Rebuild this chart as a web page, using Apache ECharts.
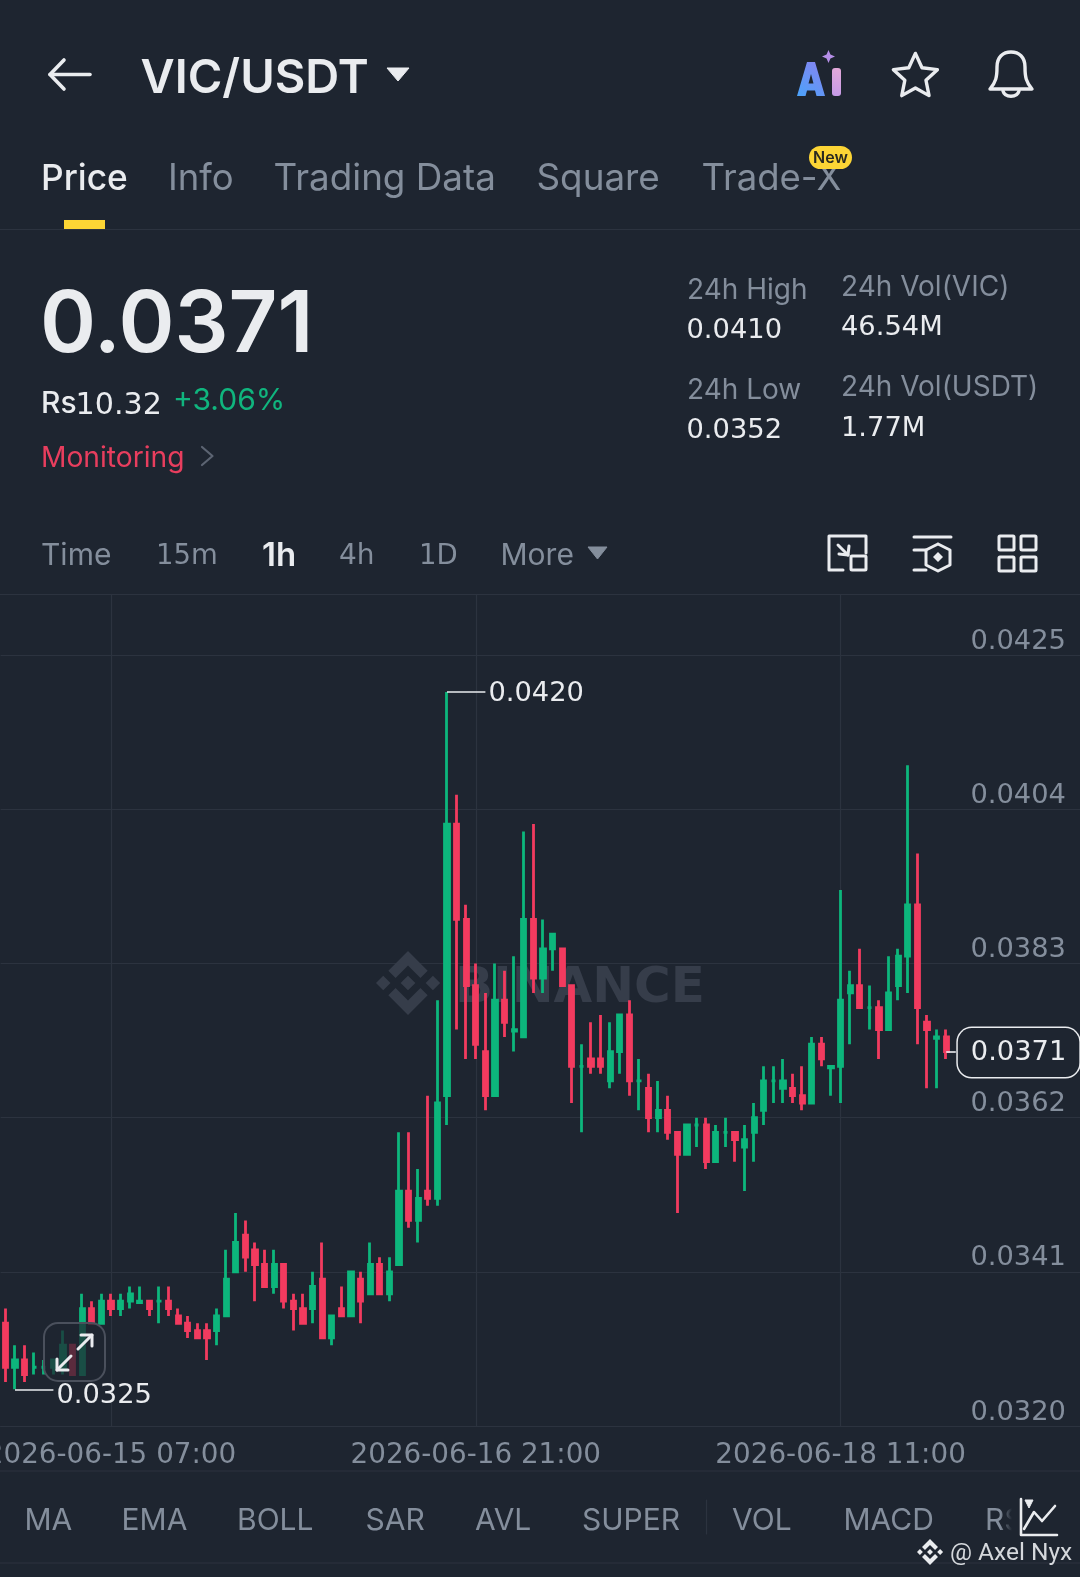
<!DOCTYPE html>
<html><head><meta charset="utf-8">
<style>html,body{margin:0;padding:0;background:#1e2530}#c{width:1080px;height:1577px}</style>
<script src="https://cdn.jsdelivr.net/npm/echarts@6/dist/echarts.min.js"></script>
</head><body><div id="c"></div>
<script>
// hourly candles, 2026-06-14 20:00 onward
const opens = [.0334,.0328,.0329,.0328,.0328,.0328,.0328,.0331,.0327,.0336,.0334,
 .0337,.0336,.0337,.03368,.0337,.0337,.0337,.0335,.0334,.0333,.0333,.0333,.0335,.0341,.0346,.0344,.0342,.0339,.0342,.0337,
 .0336,.0336,.0340,.0332,.0336,.0335,.0340,.0338,.0342,.0338,.0342,.0352,.0348,.0352,.0351,.0365,.0402,.0389,.0380,.0371,
 .0365,.0378,.03738,.0373,.0389,.0381,.0385,.0385,.0380,.0369,.0370,.0370,.0367,.0371,.0376,.0367,.0366,.0362,.0363,.0360,
 .0357,.0361,.0361,.0356,.0360,.0360,.0358,.0360,.0363,.0367,.0366,.0366,.0365,.0364,.0372,.03688,.0369,.0379,.0380,.0377,
 .0377,.0374,.0380,.0384,.0391,.0375,.03728,.0373];
const closes = [.0328,.0329,.0327,.0328,.0328,.0329,.0331,.0327,.0336,.0334,.0337,
 .0336,.0337,.0338,.0337,.0336,.0337,.0336,.0334,.0333,.0332,.0332,.0335,.0340,.0345,.0343,.0342,.0339,.0342,.0337,.0336,
 .0334,.0339,.0332,.0335,.0335,.0341,.0337,.0342,.0338,.0341,.0352,.0348,.0351,.0351,.0364,.0402,.0389,.0380,.0372,.0365,
 .0378,.0375,.0374,.0389,.0381,.0385,.0387,.0380,.0369,.0369,.0369,.0369,.0371,.0376,.0367,.0367,.0362,.0363,.0360,.0357,
 .0361,.0361,.0356,.0360,.0360,.0359,.0359,.0362,.0367,.0367,.0367,.0365,.0364,.0372,.0370,.0369,.0378,.0380,.0377,.0377,
 .0374,.0379,.0384,.0391,.0377,.0374,.0373,.0371];
const lows = [.0326,.0325,.0326,.0327,.0327,.0327,.0327,.0327,.0327,.0334,.0334,
 .0335,.0335,.0336,.03368,.0335,.0334,.0335,.0334,.0332,.0332,.0329,.0331,.0335,.0341,.0341,.0337,.0339,.0338,.0336,.0333,
 .0334,.0334,.0332,.0331,.0335,.0335,.0334,.0338,.0338,.0337,.0342,.0347,.0345,.0350,.0350,.0361,.0374,.0370,.0370,.0363,
 .0365,.0373,.0371,.0373,.0379,.0379,.0382,.0380,.0364,.0360,.0368,.0368,.0366,.0368,.0365,.0363,.0360,.0360,.0359,.0349,
 .0357,.0358,.0355,.0356,.0358,.0356,.0352,.0356,.0361,.0364,.0364,.0364,.0363,.0364,.0369,.0365,.0364,.0372,.0377,.0374,
 .0370,.0374,.0378,.0379,.0372,.0366,.0366,.0370];
const highs = [.0336,.0331,.0331,.0330,.0329,.0329,.0333,.0331,.0338,.0337,.0338,
 .0338,.0338,.0339,.0339,.0337,.0339,.0339,.0336,.0335,.0334,.0334,.0336,.0344,.0349,.0348,.0345,.0344,.0344,.0342,.0338,
 .0338,.0341,.0345,.0335,.0339,.0341,.0341,.0345,.0343,.0343,.0360,.0360,.0355,.0365,.0378,.0420,.0406,.0391,.0383,.0379,
 .0383,.0382,.0384,.0401,.0402,.0389,.0387,.0385,.0380,.0372,.0375,.0376,.0375,.0376,.0378,.0370,.0368,.0367,.0365,.0360,
 .0361,.0362,.0362,.0361,.0362,.0360,.0361,.0364,.0369,.0369,.0370,.0368,.0369,.0373,.0373,.0369,.0393,.0382,.0385,.0380,
 .0378,.0384,.0385,.0410,.0398,.0376,.0374,.0374];
const yTicks = [.0320,.0341,.0362,.0383,.0404,.0425];
const xTickLabels = ['2026-06-15 07:00','2026-06-16 21:00','2026-06-18 11:00'];
const lastPrice = .0371, highPrice = .0420, lowPrice = .0325;
const statsLabels = ['24h High','24h Vol(VIC)','24h Low','24h Vol(USDT)'];
const statsValues = ['0.0410','46.54M','0.0352','1.77M'];

const pad2 = n => String(n).padStart(2,'0');
const categories = [];
for (let i = 0; i < 113; i++) {
  const d = new Date(Date.UTC(2026,5,14,20) + i*3600000);
  categories.push(`${d.getUTCFullYear()}-${pad2(d.getUTCMonth()+1)}-${pad2(d.getUTCDate())} ${pad2(d.getUTCHours())}:00`);
}
const candleData = categories.map((c,i) => i<opens.length ? [opens[i],closes[i],lows[i],highs[i]] : ['-','-','-','-']);
const iHigh = highs.indexOf(highPrice), iLow = lows.indexOf(lowPrice), iLast = opens.length-1;

const BG='#1e2530', FONT='Inter', NUM='DejaVu Sans', W='#eaecef', G='#848e9c', LINE='#2c333f', GREEN='#0db67c', RED='#f23b5f';
const els=[];
function T(text,x,base,size,color,weight,align,z,font){
  const k = font===NUM ? 0.225 : 0.285;
  els.push({type:'text',x:x,y:base-size*k,z:z||10,silent:true,style:{text:text,fill:color,font:`${weight||400} ${size}px ${font||FONT}`,textAlign:align||'left',textVerticalAlign:'middle'}});
}
function L(x1,y1,x2,y2,c,w,z){els.push({type:'line',z:z||10,silent:true,shape:{x1,y1,x2,y2},style:{stroke:c,lineWidth:w||1.5,lineCap:'round'}});}
function P(points,c,w,z,fill){els.push({type:'polyline',z:z||10,silent:true,shape:{points},style:{stroke:c,lineWidth:w||3,lineCap:'round',lineJoin:'round',fill:fill||'none'}});}
function TRI(x1,x2,y1,y2,c,z){els.push({type:'polygon',z:z||10,silent:true,shape:{points:[[x1,y1],[x2,y1],[(x1+x2)/2,y2]]},style:{fill:c,stroke:c,lineWidth:1,lineJoin:'round'}});}
function R(x,y,w,h,r,style,z){els.push({type:'rect',z:z||10,silent:true,shape:{x,y,width:w,height:h,r:r||0},style});}
let shapeN=0;
function PATH(d,x,y,s,style,z){
  const name='iconShape'+(shapeN++);
  const scaled=d.replace(/-?\d*\.?\d+/g,n=>String(parseFloat(n)*s));
  echarts.graphic.registerShape(name,echarts.graphic.extendPath(scaled,{}));
  els.push({type:name,x,y,z:z||10,silent:true,style});
}
const stroke=(c,w)=>({fill:'none',stroke:c,lineWidth:w,lineJoin:'round',lineCap:'round'});
const LOGO='M38.73 53.2l24.59-24.58 24.6 24.6 14.3-14.31L63.32 0 24.43 38.9zM0 63.31l14.3-14.31 14.31 14.31-14.31 14.3zM38.73 73.41l24.59 24.59 24.6-24.6 14.31 14.29-38.9 38.91-38.91-38.88zM98.28 63.31l14.3-14.31 14.31 14.3-14.31 14.32zM77.83 63.3L63.32 48.78 52.59 59.51l-1.24 1.23-2.54 2.54 14.51 14.5 14.51-14.47z';
const grad=(a,b)=>({type:'linear',x:0,y:1,x2:1,y2:0,colorStops:[{offset:0,color:a},{offset:1,color:b}]});

// header
P([[64,60],[50,74.5],[64,89]],W,3.6); L(50,74.5,90,74.5,W,3.6);
T('VIC/USDT',140.5,92.5,47,W,600);
TRI(387,409,68,81,W);
PATH('M0 34L10 0L18 0L28 34L19.5 34L18 28.5L10 28.5L8.5 34ZM11.5 21.5L16.5 21.5L14 12Z',797,62,1,{fill:grad('#4aa3fa','#8a82f0')});
R(832,68,9,28,3,{fill:grad('#c49ae8','#e4a9d8')});
PATH('M5 0L6.5 3.5L10 5L6.5 6.5L5 10L3.5 6.5L0 5L3.5 3.5Z',822,50,1.3,{fill:'#b68fe8'});
PATH('M12 2l3 6.5 7 .9-5.2 4.8 1.4 7-6.2-3.5-6.2 3.5 1.4-7L2 9.4l7-.9z',889,49,2.2,stroke(W,3.4));
PATH('M2 38C8 31 9 26 9 16C9 6 15 1 23 1C31 1 37 6 37 16C37 26 38 31 44 38Z',988,51,1,stroke(W,3.4));
PATH('M15 40C17 47 29 47 31 40',988,51,1,stroke(W,3.4));

// tabs
T('Price',41,189,35.3,W,500);
T('Info',168,189,36.5,G,400);
T('Trading Data',273.5,189,36.8,G,400);
T('Square',536.5,189,36.8,G,400);
T('Trade-X',701.5,189,36.5,G,400);
R(809,146,43,23,11.5,{fill:'#fcd535'});
T('New',830.5,163,16,'#2a2a20',600,'center');
L(0,229.5,1080,229.5,LINE,1.2);
R(64,220,41,9,0,{fill:'#fcd535'});

// price block
T('0.0371',40,351,85,W,600);
T('Rs',41,413,30,W,500);
T('10.32',75.5,413,30.2,W,400,'left',10,NUM);
T('+3.06%',173,410,30,'#10b57e',400);
T('Monitoring',41,467,28.2,'#e83e5e',400);
P([[202,447],[212.5,456],[202,465]],'#5c6472',2.2);
T(statsLabels[0],687,299,28,G); T(statsValues[0],686.5,337,27.3,W,400,'left',10,NUM);
T(statsLabels[1],841,295.5,28,G); T(statsValues[1],841,334.5,27.3,W,400,'left',10,NUM);
T(statsLabels[2],687,399,28,G); T(statsValues[2],686.5,437,27.3,W,400,'left',10,NUM);
T(statsLabels[3],841,396,28,G); T(statsValues[3],841,435,27.3,W,400,'left',10,NUM);

// interval row
T('Time',41,565,30,G); T('15m',156,563,27.5,G,400,'left',10,NUM); T('1h',262,565,33,W,600);
T('4h',339,563,28,G,400,'left',10,NUM); T('1D',419,563,27.5,G,400,'left',10,NUM); T('More',500.5,565,30,G);
TRI(588,607,547,559,G);
// row icons
P([[866,553],[866,536],[829,536],[829,570],[843,570]],W,3);
R(851,556,15,14,1,stroke(W,3));
P([[838,545],[848,555]],W,3); P([[839,554],[848,555],[849,546]],W,3);
L(914,537,951,537,W,3); L(914,550,926,550,W,3); L(914,570,926,570,W,3);
P([[938,544],[950,550],[950,565],[938,571],[926,565],[926,550],[938,544]],W,3);
PATH('M5 0L10 5L5 10L0 5Z',933,552,1,{fill:W});
[[999,536],[1021,536],[999,557],[1021,557]].forEach(p=>R(p[0],p[1],15,14,1,stroke(W,3)));
L(0,594.5,1080,594.5,LINE,1.2);

// watermark behind candles
PATH(LOGO,376,951,64/126.61,{fill:'#363d4a'},1);
T('BINANCE',455,1000,50,'#363d4a',700,'left',1,NUM);

// expand button over candles
R(44,1323,61,58,14,{fill:'rgba(30,37,48,0.72)',stroke:'#4a505c',lineWidth:2},3);
L(57,1370,71,1356,W,3,3); P([[57,1359],[57,1370],[68,1370]],W,3,3);
L(78,1349,92,1335,W,3,3); P([[81,1335],[92,1335],[92,1346]],W,3,3);

// bottom bar
L(0,1471,1080,1471,LINE,1.2); L(0,1563,1080,1563,LINE,1.2);
[['MA',24.5],['EMA',121.5],['BOLL',237],['SAR',365.5],['AVL',475],['SUPER',582],['VOL',732],['MACD',843.5],['RSI',985]].forEach(a=>T(a[0],a[1],1530,30,G,400));
L(706.5,1500,706.5,1534,LINE,1.2);
R(1000,1490,12,50,0,{fill:{type:'linear',x:0,y:0,x2:1,y2:0,colorStops:[{offset:0,color:'rgba(30,37,48,0)'},{offset:1,color:BG}]}},11);
R(1012,1490,68,50,0,{fill:BG},11);
P([[1021,1499],[1021,1535],[1057,1535]],W,2.6,12);
P([[1024,1529],[1034,1512],[1042,1521],[1055,1506]],W,2.6,12);
TRI(1025,1033,1500,1508,W,12);
PATH(LOGO,917,1539,26/126.61,{fill:W},12);
T('@ Axel Nyx',950,1561,24.5,'#d5d8dc',400,'left',12,'Roboto');

const lineLabel=(v,extra)=>Object.assign({show:true,position:'end',formatter:()=>v.toFixed(4),color:W,fontFamily:NUM,fontSize:27.3,distance:3},extra||{});
const chart=echarts.init(document.getElementById('c'),null,{renderer:'canvas'});
chart.setOption({
  animation:false, backgroundColor:BG,
  grid:{left:0.6,top:595,width:1084.8,height:831,containLabel:false,outerBoundsMode:'none'},
  xAxis:{type:'category',data:categories,boundaryGap:true,
    axisLine:{show:true,lineStyle:{color:LINE,width:1.2}},axisTick:{show:false,alignWithLabel:true},
    axisLabel:{show:true,color:G,fontFamily:NUM,fontSize:27.8,margin:16,hideOverlap:false,
      interval:(i,v)=>xTickLabels.includes(v)},
    splitLine:{show:true,alignWithLabel:true,lineStyle:{color:LINE,width:1.2},interval:(i,v)=>xTickLabels.includes(v)}},
  yAxis:{type:'value',position:'right',min:.0320,max:.04332,scale:true,
    axisLine:{show:false},
    axisTick:{show:false,customValues:yTicks},
    axisLabel:{show:true,inside:true,color:G,fontFamily:NUM,fontSize:27.3,margin:19.5,verticalAlign:'bottom',
      customValues:yTicks,formatter:v=>v.toFixed(4),showMinLabel:true},
    splitLine:{show:true,lineStyle:{color:LINE,width:1.2}}},
  graphic:{elements:els},
  series:[{type:'candlestick',data:candleData,barWidth:4.6,z:2,clip:true,
    itemStyle:{color:GREEN,color0:RED,borderColor:GREEN,borderColor0:RED,borderWidth:2.8},
    markLine:{silent:true,symbol:'none',animation:false,lineStyle:{color:W,width:1.6,type:'solid'},
      data:[
        [{coord:[iHigh,highPrice],label:lineLabel(highPrice,{offset:[0,2]})},{coord:[iHigh+4,highPrice]}],
        [{coord:[iLow,lowPrice],label:lineLabel(lowPrice,{offset:[0,7]})},{coord:[iLow+4,lowPrice]}],
        [{coord:[iLast,lastPrice],label:lineLabel(lastPrice,{distance:2,offset:[0,1],backgroundColor:BG,borderColor:W,borderWidth:1.5,borderRadius:14,padding:[16,13,6,13]})},{coord:[iLast+1,lastPrice]}]
      ]}
  }]
});
</script></body></html>
